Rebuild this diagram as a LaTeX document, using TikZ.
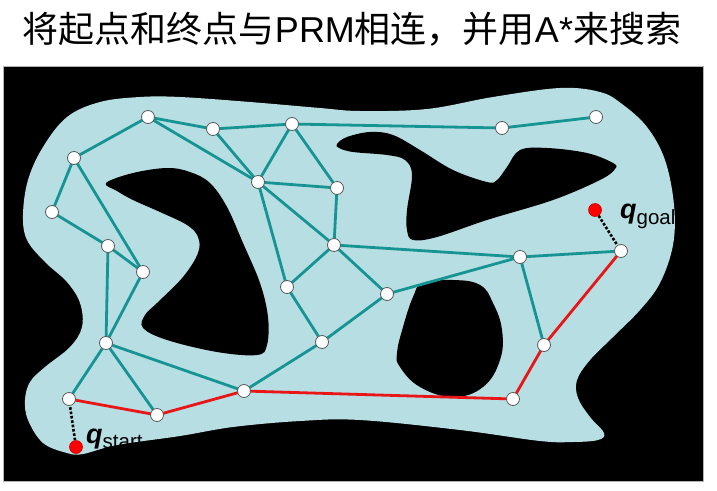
\documentclass[tikz,border=0pt]{standalone}
\usepackage{fontspec}
\setmainfont{Liberation Sans}
\newfontfamily\cjk{Noto Sans CJK SC}
\definecolor{freec}{RGB}{183,222,226}
\definecolor{edgec}{RGB}{22,148,148}
\definecolor{pathc}{RGB}{232,22,22}
\pgfdeclarelayer{bglayer}
\pgfdeclarelayer{edgelayer}
\pgfsetlayers{bglayer,edgelayer,main}
\begin{document}
\begin{tikzpicture}[x=1pt,y=-1pt,
  vtx/.style={circle,fill=white,draw=black!65,line width=0.8pt,inner sep=0pt,minimum size=13pt},
  endpt/.style={circle,fill=red,draw=red!80!black,line width=0.6pt,inner sep=0pt,minimum size=13pt},
  rm/.style={draw=edgec,line width=2.8pt},
  sol/.style={draw=pathc,line width=2.8pt},
  link/.style={draw=black,line width=2.6pt,dash pattern=on 2.6pt off 1.8pt},
  lbl/.style={inner sep=0pt,anchor=base west}]
\useasboundingbox (0,0) rectangle (717,490);
\node[font=\fontsize{36}{40}\selectfont] (title) at (352,29) {{\cjk 将起点和终点与}PRM{\cjk 相连，并用}A*{\cjk 来搜索}};

\def\outerpath{plot[smooth cycle,tension=0.6] coordinates {
 (100,102) (140,97) (180,97) (250,102) (320,108) (360,111) (427,109) (493,97) (560,88) (600,92) (622,104) (647,127) (665,160) (674,205) (673,245) (660,283) (640,310) (613,337) (590,360) (577,380) (578,398) (590,417) (604,433) (598,440) (573,442) (540,441) (460,430) (360,420) (300,421) (233,427) (180,436) (117,445) (83,454) (67,453) (43,443) (28,420) (25,400) (30,382) (45,367) (70,347) (82,327) (80,303) (67,282) (45,262) (27,240) (23,215) (28,180) (43,147) (67,117)}}

\begin{pgfonlayer}{bglayer}
\fill[black] (3,66) rectangle (703,481);
\draw[black!30,line width=0.8pt] (3,66) rectangle (703,481);
\fill[freec] \outerpath;
\fill[black] plot[smooth cycle,tension=0.6] coordinates {
 (106,183) (133,173) (167,168) (190,172) (210,183) (227,207) (243,243) (260,283) (268,317) (267,345) (257,355) (217,352) (167,340) (143,328) (145,315) (157,303) (183,277) (198,253) (198,237) (187,225) (160,212) (133,200) (117,191)};
\fill[black] plot[smooth cycle,tension=0.6] coordinates {
 (337,144) (347,137) (370,132) (393,135) (420,150) (453,170) (487,182) (497,180) (507,167) (520,150) (547,148) (587,153) (613,163) (615,169) (600,180) (553,200) (487,220) (437,237) (413,240) (407,230) (407,210) (412,175) (405,160) (387,155) (353,152) (339,148)};
\fill[black] plot[smooth cycle,tension=0.7] coordinates {
 (423,283) (453,280) (480,285) (493,303) (502,330) (500,360) (483,387) (453,397) (420,387) (400,367) (397,353) (403,327) (413,297)};
\begin{scope}
\clip \outerpath;
\node[lbl] (qs) at (86,443) {\fontsize{27}{30}\selectfont\bfseries\itshape q\fontsize{20.5}{22}\selectfont\mdseries\upshape\raisebox{-5.5pt}{start}};
\node[lbl] (qg) at (620,218) {\fontsize{27}{30}\selectfont\bfseries\itshape q\fontsize{20.5}{22}\selectfont\mdseries\upshape\raisebox{-6.5pt}{goal}};
\end{scope}
\end{pgfonlayer}

\node[vtx] (n1) at (148,117) {};
\node[vtx] (n2) at (213,129) {};
\node[vtx] (n3) at (292,124) {};
\node[vtx] (n4) at (74,158) {};
\node[vtx] (n5) at (258,182) {};
\node[vtx] (n6) at (337,188) {};
\node[vtx] (n7) at (52,212) {};
\node[vtx] (n8) at (334,245) {};
\node[vtx] (n9) at (108,246) {};
\node[vtx] (n10) at (143,272) {};
\node[vtx] (n11) at (502,128) {};
\node[vtx] (n12) at (596,117) {};
\node[vtx] (n13) at (621,251) {};
\node[vtx] (n14) at (520,257) {};
\node[vtx] (n15) at (287,287) {};
\node[vtx] (n16) at (106,343) {};
\node[vtx] (n17) at (322,342) {};
\node[vtx] (n18) at (69,399) {};
\node[vtx] (n19) at (244,391) {};
\node[vtx] (n20) at (157,415) {};
\node[vtx] (n21) at (387,294) {};
\node[vtx] (n22) at (544,345) {};
\node[vtx] (n23) at (513,399) {};
\node[endpt] (start) at (76,447) {};
\node[endpt] (goal) at (595,210) {};

\begin{pgfonlayer}{edgelayer}
\foreach \a/\b in {n1/n4,n1/n2,n1/n5,n2/n3,n2/n5,n3/n5,n3/n6,n3/n11,n11/n12,n5/n6,n6/n8,n5/n8,n5/n15,n8/n15,n8/n14,n8/n21,n14/n13,n21/n14,n14/n22,n15/n17,n17/n21,n17/n19,n16/n19,n16/n20,n16/n18,n16/n10,n16/n9,n9/n10,n9/n7,n7/n4,n4/n10}
  \path[rm] (\a.center) -- (\b.center);
\foreach \a/\b in {n18/n20,n20/n19,n19/n23,n23/n22,n22/n13}
  \path[sol] (\a.center) -- (\b.center);
\path[link] (start) -- (n18);
\path[link] (goal) -- (n13);
\end{pgfonlayer}
\end{tikzpicture}
\end{document}
